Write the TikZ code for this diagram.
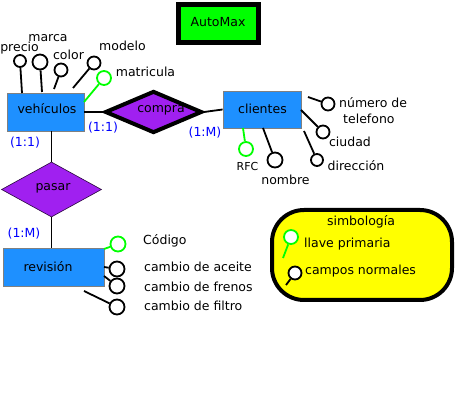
\documentclass[tikz,border=0pt]{standalone}
\usepackage{fontspec}
\setmainfont{DejaVu Sans}
\usetikzlibrary{shapes.geometric}
\definecolor{entblue}{HTML}{1E90FF}
\definecolor{relpurple}{HTML}{A020F0}
\definecolor{keygreen}{HTML}{00FF00}
\definecolor{cardblue}{HTML}{0000FF}
\definecolor{symyellow}{HTML}{FFFF00}
\begin{document}
\begin{tikzpicture}[x=1pt,y=-1pt,font=\fontsize{12.5}{14}\selectfont,
  entity/.style={draw=gray,fill=entblue,line width=0.8pt,inner sep=0pt},
  relation/.style={diamond,fill=relpurple,inner sep=0pt},
  attr/.style={circle,draw=black,fill=white,line width=1.8pt,inner sep=0pt,minimum size=#1},
  keyattr/.style={circle,draw=keygreen,fill=white,line width=1.8pt,inner sep=0pt,minimum size=#1},
  conn/.style={draw=black,line width=1.8pt},
  keyconn/.style={draw=keygreen,line width=1.8pt},
  card/.style={text=cardblue,inner sep=0pt},
  lbl/.style={inner sep=0pt}]
\useasboundingbox (0,0) rectangle (461,403);

% title
\node[draw=black,fill=keygreen,line width=5pt,minimum width=80pt,minimum height=38pt,inner sep=0pt] (title) at (218,24) {};
\node[lbl] (titletext) at (218,22) {AutoMax};

% entities
\node[entity,minimum width=77pt,minimum height=38pt] (veh) at (45.5,112) {};
\node[lbl] (vehtext) at (47,109) {vehículos};
\node[entity,minimum width=78pt,minimum height=37pt] (cli) at (262,109.5) {};
\node[lbl] (clitext) at (262.5,109) {clientes};
\node[entity,minimum width=101pt,minimum height=38pt] (rev) at (53.5,267) {};
\node[lbl] (revtext) at (48,267) {revisión};

% relations
\node[relation,draw=black,line width=4pt,minimum width=97pt,minimum height=42pt] (compra) at (153.5,112) {};
\node[lbl] (compratext) at (161,110) {compra};
\node[relation,draw=black!75!relpurple,line width=0.6pt,minimum width=100pt,minimum height=55pt] (pasar) at (51.5,189.5) {};
\node[lbl] (pasartext) at (53,188) {pasar};

% relation connectors
\draw[conn] (veh.east) -- (compra.west);
\draw[conn] (compra.east) -- (cli.west);
\draw[conn] (pasar.north |- veh.south) -- (pasar.north);
\draw[conn] (pasar.south) -- (pasar.south |- rev.north);

% cardinalities
\node[card] (c1) at (103,128) {(1:1)};
\node[card] (c2) at (25,143) {(1:1)};
\node[card] (c3) at (205,133) {(1:M)};
\node[card] (c4) at (24,234) {(1:M)};

% vehiculos attributes
\node[attr=12pt] (precio) at (20,61) {};
\node[attr=15pt] (marca) at (40,62) {};
\node[attr=13pt] (color) at (61,70) {};
\node[attr=13pt] (modelo) at (94,63) {};
\node[keyattr=14pt] (matricula) at (104,78) {};
\coordinate (pPrecio) at (22,93);
\coordinate (pMarca) at (42,92);
\coordinate (pColor) at (54,89);
\coordinate (pModelo) at (73,88);
\coordinate (pMatricula) at (84,102);
\draw[conn] (pPrecio) -- (precio);
\draw[conn] (pMarca) -- (marca);
\draw[conn] (pColor) -- (color);
\draw[conn] (pModelo) -- (modelo);
\draw[keyconn] (pMatricula) -- (matricula);
\node[lbl] (lprecio) at (19.5,48) {precio};
\node[lbl] (lmarca) at (48,38) {marca};
\node[lbl] (lcolor) at (68.5,55) {color};
\node[lbl] (lmodelo) at (122.5,46) {modelo};
\node[lbl] (lmatricula) at (145.5,72) {matricula};

% clientes attributes
\node[attr=13pt] (telefono) at (328,104) {};
\node[attr=13pt] (ciudad) at (323,132) {};
\node[attr=12pt] (direccion) at (317,160) {};
\node[attr=15pt] (nombre) at (275,160) {};
\node[keyattr=14pt] (rfc) at (246,149) {};
\coordinate (pTel) at (308,97);
\coordinate (pCiudad) at (301,110);
\coordinate (pDir) at (304,131);
\coordinate (pNombre) at (263,128);
\coordinate (pRfc) at (243,128);
\draw[conn] (pTel) -- (telefono);
\draw[conn] (pCiudad) -- (ciudad);
\draw[conn] (pDir) -- (direccion);
\draw[conn] (pNombre) -- (nombre);
\draw[keyconn] (pRfc) -- (rfc);
\node[lbl,anchor=west] (ltel1) at (339,103) {número de};
\node[lbl,anchor=west] (ltel2) at (343,119) {telefono};
\node[lbl] (lciudad) at (350,142) {ciudad};
\node[lbl] (ldir) at (356,166) {dirección};
\node[lbl] (lnombre) at (285.5,180) {nombre};
\node[lbl,font=\fontsize{11}{13}\selectfont] (lrfc) at (247.5,166) {RFC};

% revision attributes
\node[keyattr=15pt] (codigo) at (118,244) {};
\node[attr=15pt] (aceite) at (117,269) {};
\node[attr=15pt] (frenos) at (117,286) {};
\node[attr=15pt] (filtro) at (117,307) {};
\coordinate (pCodigo) at (104,249);
\coordinate (pAceite) at (104,267);
\coordinate (pFrenos) at (104,276);
\coordinate (pFiltro) at (84,291);
\draw[keyconn] (pCodigo) -- (codigo);
\draw[conn] (pAceite) -- (aceite);
\draw[conn] (pFrenos) -- (frenos);
\draw[conn] (pFiltro) -- (filtro);
\node[lbl,anchor=west] (lcodigo) at (143,241) {Código};
\node[lbl,anchor=west] (laceite) at (144,267) {cambio de aceite};
\node[lbl,anchor=west] (lfrenos) at (144,287) {cambio de frenos};
\node[lbl,anchor=west] (lfiltro) at (144,306) {cambio de filtro};

% legend
\node[draw=black,fill=symyellow,line width=4pt,rounded corners=32pt,minimum width=180pt,minimum height=90pt,inner sep=0pt] (legend) at (362,255) {};
\node[lbl] (legtitle) at (361,222) {simbología};
\node[keyattr=14pt] (legkey) at (291,237) {};
\node[attr=13pt] (legnorm) at (295,273) {};
\coordinate (pLegKey) at (283,258);
\coordinate (pLegNorm) at (286,285);
\draw[keyconn] (pLegKey) -- (legkey);
\draw[conn] (pLegNorm) -- (legnorm);
\node[lbl,anchor=west] (llave) at (304,244) {llave primaria};
\node[lbl,anchor=west] (lcampos) at (305,271) {campos normales};
\end{tikzpicture}
\end{document}
